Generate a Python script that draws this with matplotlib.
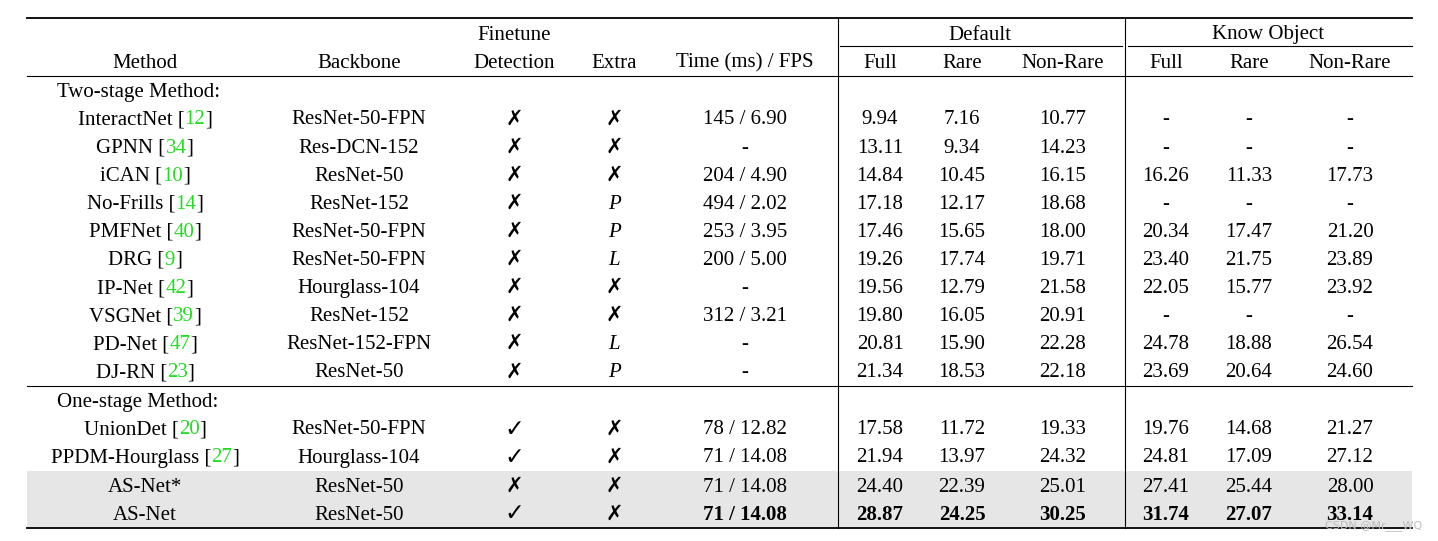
import matplotlib
matplotlib.use("Agg")
import matplotlib.pyplot as plt
from matplotlib.patches import Rectangle

plt.rcParams['font.family'] = ['Liberation Serif', 'DejaVu Sans']

methods = ["InteractNet", "GPNN", "iCAN", "No-Frills", "PMFNet", "DRG", "IP-Net", "VSGNet",
           "PD-Net", "DJ-RN", "UnionDet", "PPDM-Hourglass", "AS-Net*", "AS-Net"]
cites = ["12", "34", "10", "14", "40", "9", "42", "39", "47", "23", "20", "27", None, None]
backbones = ["ResNet-50-FPN", "Res-DCN-152", "ResNet-50", "ResNet-152", "ResNet-50-FPN",
             "ResNet-50-FPN", "Hourglass-104", "ResNet-152", "ResNet-152-FPN", "ResNet-50",
             "ResNet-50-FPN", "Hourglass-104", "ResNet-50", "ResNet-50"]
finetune = ["x"] * 10 + ["v", "v", "x", "v"]
extra = ["x", "x", "x", "P", "P", "L", "x", "x", "L", "P", "x", "x", "x", "x"]
times = ["145 / 6.90", "-", "204 / 4.90", "494 / 2.02", "253 / 3.95", "200 / 5.00", "-",
         "312 / 3.21", "-", "-", "78 / 12.82", "71 / 14.08", "71 / 14.08", "71 / 14.08"]
default = [["9.94", "7.16", "10.77"], ["13.11", "9.34", "14.23"], ["14.84", "10.45", "16.15"],
           ["17.18", "12.17", "18.68"], ["17.46", "15.65", "18.00"], ["19.26", "17.74", "19.71"],
           ["19.56", "12.79", "21.58"], ["19.80", "16.05", "20.91"], ["20.81", "15.90", "22.28"],
           ["21.34", "18.53", "22.18"], ["17.58", "11.72", "19.33"], ["21.94", "13.97", "24.32"],
           ["24.40", "22.39", "25.01"], ["28.87", "24.25", "30.25"]]
known = [["-", "-", "-"], ["-", "-", "-"], ["16.26", "11.33", "17.73"], ["-", "-", "-"],
         ["20.34", "17.47", "21.20"], ["23.40", "21.75", "23.89"], ["22.05", "15.77", "23.92"],
         ["-", "-", "-"], ["24.78", "18.88", "26.54"], ["23.69", "20.64", "24.60"],
         ["19.76", "14.68", "21.27"], ["24.81", "17.09", "27.12"], ["27.41", "25.44", "28.00"],
         ["31.74", "27.07", "33.14"]]

W, H = 1438, 541
fig = plt.figure(figsize=(W / 100, H / 100), dpi=100)
ax = fig.add_axes([0, 0, 1, 1])
ax.set_xlim(0, W)
ax.set_ylim(H, 0)
ax.axis("off")
FS = 15
cols = [145, 359, 514, 614, 745, 880, 962, 1063, 1166, 1249, 1350]
L, R = 27, 1412

def t(x, y, s, **kw):
    kw.setdefault("fontsize", FS)
    return ax.text(x, y + 2, s, ha="center", va="center", **kw)

# shading
ax.add_patch(Rectangle((L, 471), R - L, 56, color="#e6e6e6", lw=0))
# rules
for y, lw in [(18, 1.3), (76, 0.8), (386, 0.8), (528, 1.3)]:
    ax.plot([L, R], [y, y], color="black", lw=lw)
ax.plot([840, 1122], [46, 46], color="black", lw=0.8)
ax.plot([1128, R], [46, 46], color="black", lw=0.8)
for x in [838, 1125]:
    ax.plot([x, x], [18, 528], color="black", lw=0.8)

# headers
t(cols[2], 33, "Finetune")
t(980, 33, "Default")
t(1268, 33, "Know Object")
for x, s in zip(cols, ["Method", "Backbone", "Detection", "Extra", "Time (ms) / FPS",
                       "Full", "Rare", "Non-Rare", "Full", "Rare", "Non-Rare"]):
    t(x, 61, s)
ax.text(57, 92, "Two-stage Method:", ha="left", va="center", fontsize=FS)
ax.text(57, 403, "One-stage Method:", ha="left", va="center", fontsize=FS)

ys = [118 + 28.1 * i for i in range(10)] + [428, 456, 485, 513]
fig.canvas.draw()
rend = fig.canvas.get_renderer()
sx = W / fig.bbox.width

def width(s):
    tmp = ax.text(0, 0, s, fontsize=FS)
    bb = tmp.get_window_extent(rend)
    tmp.remove()
    return bb.width * sx

for i, y in enumerate(ys):
    bold = "bold" if i == len(ys) - 1 else "normal"
    if cites[i]:
        full = methods[i] + " [" + cites[i] + "]"
        x0 = cols[0] - width(full) / 2
        wa = width(methods[i] + " [" + cites[i]) - width(cites[i] + "]") + width("]")
        wpre = width(methods[i] + " [")
        ax.text(x0, y + 2, methods[i] + " [", ha="left", va="center", fontsize=FS)
        ax.text(x0 + wpre, y + 2, cites[i], ha="left", va="center", fontsize=FS, color="#22dd22")
        ax.text(x0 + width(full) - width("]"), y + 2, "]", ha="left", va="center", fontsize=FS)
    else:
        t(cols[0], y, methods[i])
    t(cols[1], y, backbones[i])
    if finetune[i] == "v":
        t(cols[2], y, "\u2713", fontsize=FS + 2, weight="bold")
    else:
        t(cols[2], y, "\u2717", fontsize=FS)
    if extra[i] == "x":
        t(cols[3], y, "\u2717", fontsize=FS)
    else:
        t(cols[3], y, extra[i], style="italic")
    t(cols[4], y, times[i], weight=bold)
    for j in range(3):
        t(cols[5 + j], y, default[i][j], weight=bold)
        t(cols[8 + j], y, known[i][j], weight=bold)

ax.text(1422, 526, "CSDN @Mr___WQ", ha="right", va="center", fontsize=8,
        color="#bbbbbb", family="DejaVu Sans")

fig.savefig("out.png", dpi=100)
